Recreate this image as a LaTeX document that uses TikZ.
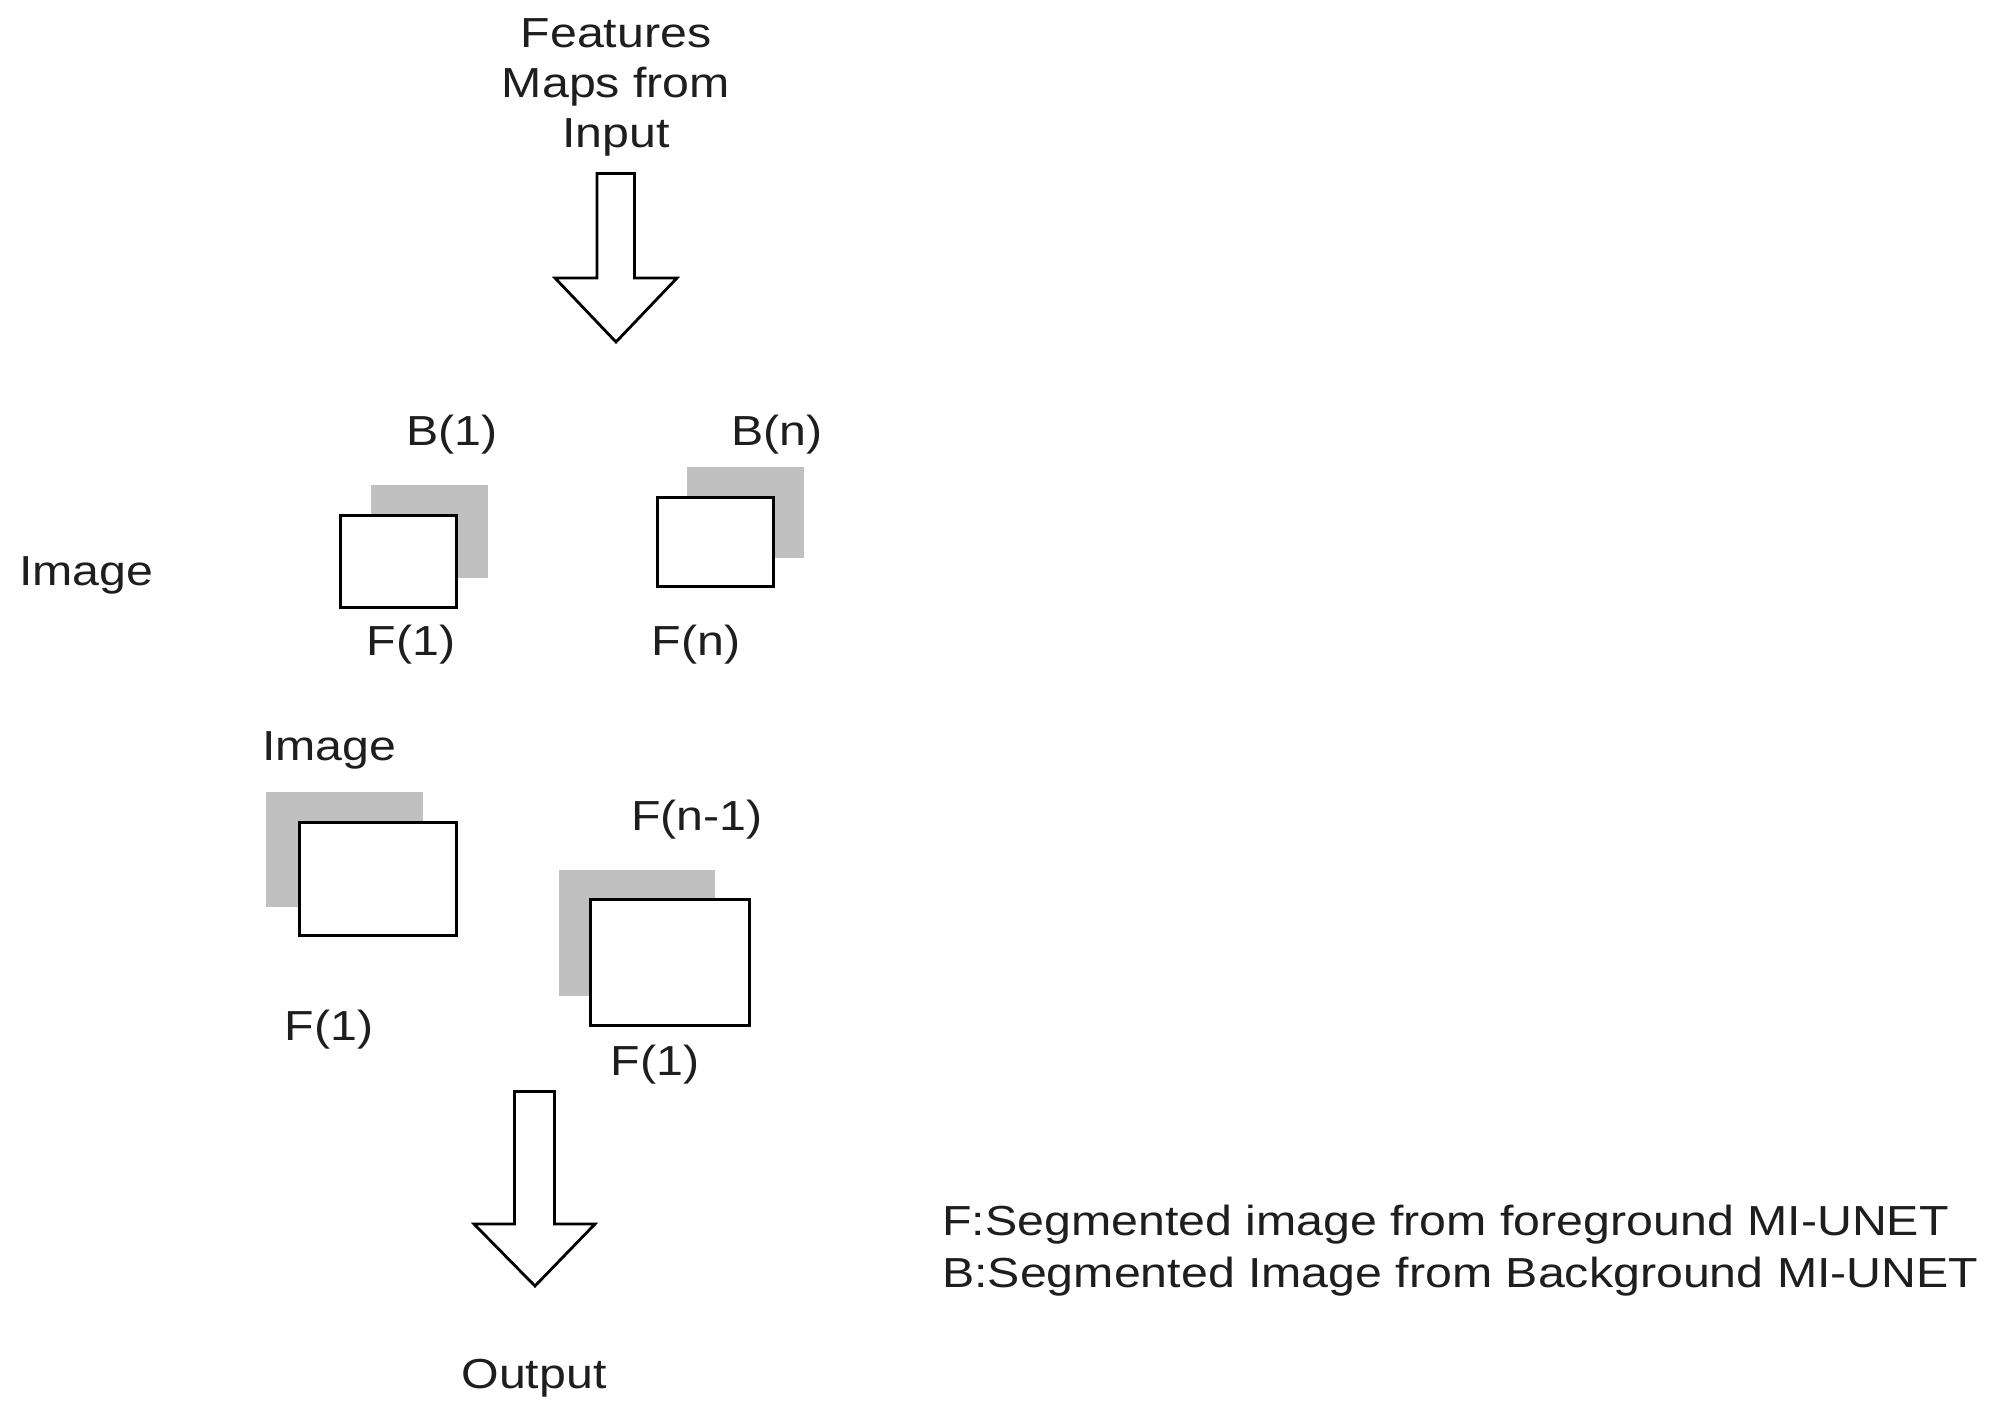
\documentclass[tikz,border=0pt]{standalone}
\usepackage{fontspec}
\setmainfont{Liberation Sans}[FakeStretch=1.15]
\definecolor{shadegray}{RGB}{192,192,192}
\definecolor{txt}{RGB}{30,30,30}
\tikzset{
  fbox/.style={draw=black, line width=3.6pt, fill=white, inner sep=0pt},
  bbox/.style={fill=shadegray, inner sep=0pt},
  lbl/.style={inner sep=0pt, anchor=base, text=txt},
  blockarrow/.style={draw=black, line width=2.8pt, fill=white, line join=miter},
}
\begin{document}
\begin{tikzpicture}[x=1pt,y=-1pt,font=\fontsize{42}{50}\selectfont]
\fill[white] (0,0) rectangle (2005,1417);
\useasboundingbox (0,0) rectangle (2005,1417);

% title (base anchor = baseline of last line)
\node[lbl, align=center] (title) at (616,147) {Features\\Maps from\\Input};

% top arrow
\draw[blockarrow] (597,173.5) -- (634.5,173.5) -- (634.5,278) -- (677,278)
  -- (616,342) -- (555,278) -- (597,278) -- cycle;

% top-left pair
\node[bbox, minimum width=117pt, minimum height=93pt] (b1) at (429.5,531.5) {};
\node[fbox, minimum width=116pt, minimum height=92pt] (f1) at (398.5,561.5) {};
\node[lbl] (b1lbl) at (452,445) {B(1)};
\node[lbl] (f1lbl) at (411,655) {F(1)};

% top-right pair
\node[bbox, minimum width=117pt, minimum height=91pt] (bn) at (745.5,512.5) {};
\node[fbox, minimum width=116pt, minimum height=89pt] (fn) at (715.5,542) {};
\node[lbl] (bnlbl) at (777,445) {B(n)};
\node[lbl] (fnlbl) at (696,655) {F(n)};

% left label
\node[lbl, anchor=base west] (img1) at (19,585) {Image};

% bottom-left pair
\node[lbl, anchor=base west] (img2) at (262,760) {Image};
\node[bbox, minimum width=157pt, minimum height=115pt] (g3) at (344.5,849.5) {};
\node[fbox, minimum width=157pt, minimum height=113pt] (w3) at (378,879) {};
\node[lbl] (f1b) at (329,1040) {F(1)};

% bottom-right pair
\node[lbl] (fnm1) at (697,830) {F(n-1)};
\node[bbox, minimum width=156pt, minimum height=126pt] (g4) at (637,933) {};
\node[fbox, minimum width=159pt, minimum height=126pt] (w4) at (670,962.5) {};
\node[lbl] (f1c) at (655,1075) {F(1)};

% bottom arrow
\draw[blockarrow] (514.5,1091.5) -- (554.5,1091.5) -- (554.5,1224) -- (595,1224)
  -- (535,1286) -- (474,1224) -- (514.5,1224) -- cycle;
\node[lbl] (out) at (534,1388) {Output};

% legend (base anchor = baseline of last line)
\node[lbl, anchor=base west, align=left, font=\fontsize{42}{52}\selectfont] (legend) at (942,1287)
  {F:Segmented image from foreground MI-UNET\\B:Segmented Image from Background MI-UNET};
\end{tikzpicture}
\end{document}
